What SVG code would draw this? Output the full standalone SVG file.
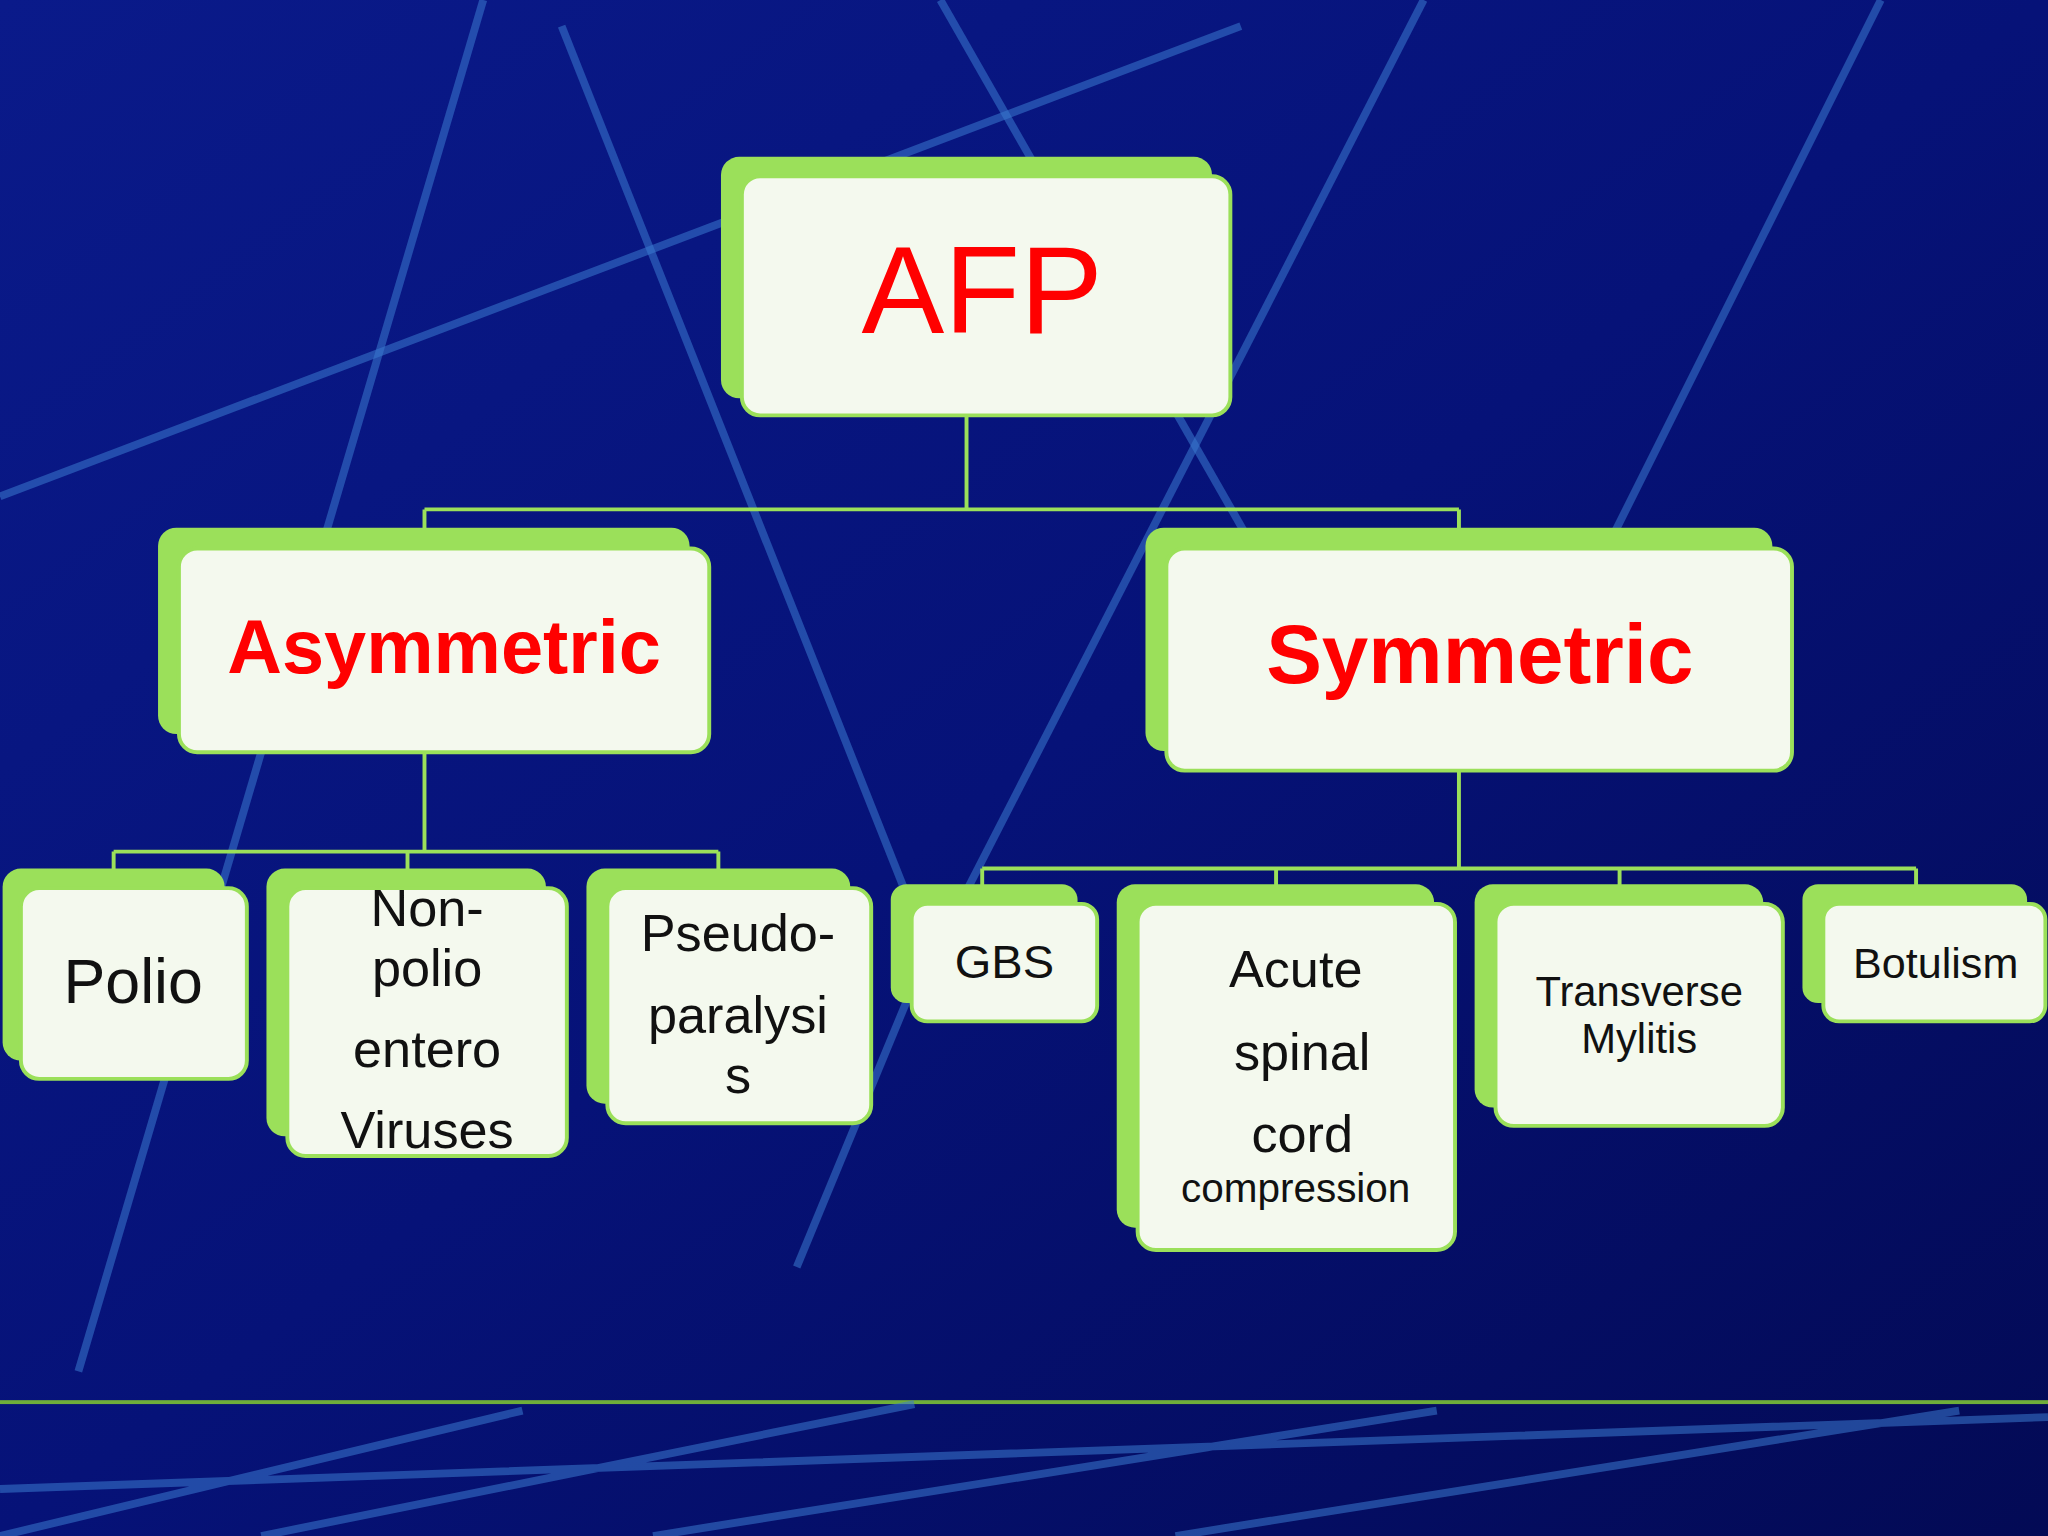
<svg xmlns="http://www.w3.org/2000/svg" width="2048" height="1536" viewBox="0 0 2048 1536">
<defs>
<linearGradient id="bg" x1="0" y1="0" x2="1" y2="1"><stop offset="0" stop-color="#0a1a8a"/><stop offset="0.5" stop-color="#061278"/><stop offset="1" stop-color="#030a55"/></linearGradient>
<style>
.bk{fill:#9be05a}
.fr{fill:#f4f9ee;stroke:#9be05a;stroke-width:3}
.ln{stroke:#9be05a;stroke-width:3;fill:none}
.deco{stroke:#3a7ad0;stroke-width:6;fill:none;opacity:0.55}
.t{font-family:"Liberation Sans",Arial,sans-serif;text-anchor:middle;fill:#111}
.r{fill:#ff0000}
</style>
</defs>
<rect width="2048" height="1536" fill="url(#bg)"/>
<g transform="scale(1.30612)">
<g id="background">
<path class="deco" d="M0 380 L950 20"/><path class="deco" d="M60 1050 L370 0"/><path class="deco" d="M430 20 L700 700"/><path class="deco" d="M700 760 L1090 0"/><path class="deco" d="M1230 420 L1440 0"/><path class="deco" d="M720 0 L960 420"/><path class="deco" d="M610 970 L730 680"/>
<rect x="0" y="1072" width="1568" height="3" fill="#6fae3a"/>
<path class="deco" d="M0 1176 L400 1080 M200 1176 L700 1075 M500 1176 L1100 1080 M900 1176 L1500 1080 M0 1140 L1568 1085"/>
</g>
<g id="connectors">
<path class="ln" d="M740 318 V390 M325 390 H1117 M325 390 V405 M1117 390 V405"/>
<path class="ln" d="M325 576 V652 M87 652 H550 M87 652 V666 M312 652 V666 M550 652 V666"/>
<path class="ln" d="M1117 590 V665 M752 665 H1467 M752 665 V678 M977 665 V678 M1240 665 V678 M1467 665 V678"/>
</g>
<g id="afp"><rect class="bk" x="552" y="120" width="376" height="185" rx="14"/><rect class="fr" x="568" y="135" width="374" height="183" rx="14"/><text class="t r" x="752" y="255" font-size="95">AFP</text></g>
<g id="asym"><rect class="bk" x="121" y="404" width="407" height="158" rx="14"/><rect class="fr" x="137" y="420" width="406" height="156" rx="14"/><text class="t r" x="340" y="515" font-size="58" font-weight="bold">Asymmetric</text></g>
<g id="sym"><rect class="bk" x="877" y="404" width="480" height="171" rx="14"/><rect class="fr" x="893" y="420" width="479" height="170" rx="14"/><text class="t r" x="1133" y="523" font-size="64" font-weight="bold">Symmetric</text></g>
<g id="polio"><rect class="bk" x="2" y="665" width="170" height="147" rx="14"/><rect class="fr" x="16" y="680" width="173" height="146" rx="14"/><text class="t" x="102" y="768" font-size="48">Polio</text></g>
<g id="nonpolio"><rect class="bk" x="204" y="665" width="214" height="205" rx="14"/><rect class="fr" x="220" y="680" width="214" height="205" rx="14"/><text class="t" x="327" y="709" font-size="40">Non-</text><text class="t" x="327" y="755" font-size="40">polio</text><text class="t" x="327" y="817" font-size="40">entero</text><text class="t" x="327" y="879" font-size="40">Viruses</text></g>
<g id="pseudo"><rect class="bk" x="449" y="665" width="202" height="180" rx="14"/><rect class="fr" x="465" y="680" width="202" height="180" rx="14"/><text class="t" x="565" y="728" font-size="40">Pseudo-</text><text class="t" x="565" y="791" font-size="40">paralysi</text><text class="t" x="565" y="837" font-size="40">s</text></g>
<g id="gbs"><rect class="bk" x="682" y="677" width="143" height="91" rx="12"/><rect class="fr" x="698" y="692" width="142" height="90" rx="12"/><text class="t" x="769" y="749" font-size="36">GBS</text></g>
<g id="acute"><rect class="bk" x="855" y="677" width="243" height="263" rx="14"/><rect class="fr" x="871" y="692" width="243" height="265" rx="14"/><text class="t" x="992" y="756" font-size="40">Acute</text><text class="t" x="997" y="819" font-size="40">spinal</text><text class="t" x="997" y="882" font-size="40">cord</text><text class="t" x="992" y="920" font-size="31">compression</text></g>
<g id="transverse"><rect class="bk" x="1129" y="677" width="221" height="171" rx="14"/><rect class="fr" x="1145" y="692" width="220" height="170" rx="14"/><text class="t" x="1255" y="770" font-size="32">Transverse</text><text class="t" x="1255" y="806" font-size="32">Mylitis</text></g>
<g id="botulism"><rect class="bk" x="1380" y="677" width="172" height="91" rx="12"/><rect class="fr" x="1396" y="692" width="170" height="90" rx="12"/><text class="t" x="1482" y="749" font-size="33">Botulism</text></g>
</g>
</svg>
